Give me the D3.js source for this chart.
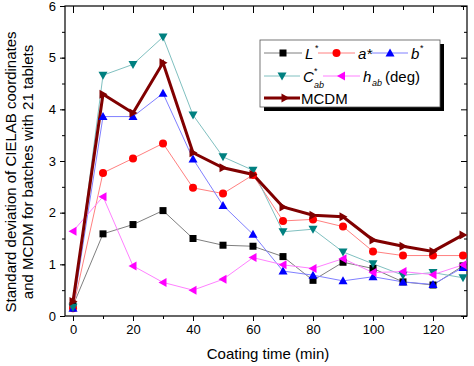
<!DOCTYPE html>
<html><head><meta charset="utf-8">
<script src="https://cdn.jsdelivr.net/npm/d3@7/dist/d3.min.js"></script>
<style>body{margin:0;background:#fff}svg{display:block;font-family:"Liberation Sans",Arial,sans-serif}</style>
</head><body><svg id="c" width="474" height="366"></svg>
<script>
const times = [0,10,20,30,40,50,60,70,80,90,100,110,120,130];
const Lstar = [0.20,1.59,1.77,2.04,1.50,1.37,1.35,1.15,0.69,1.04,0.92,0.66,0.60,0.97];
const astar = [0.15,2.77,3.05,3.34,2.48,2.37,2.73,1.84,1.87,1.73,1.25,1.17,1.17,1.17];
const bstar = [0.15,3.86,3.86,4.31,3.04,2.14,1.58,0.87,0.79,0.68,0.76,0.66,0.61,0.94];
const Cab = [0.17,4.66,4.87,5.40,3.89,3.08,2.82,1.63,1.68,1.24,1.01,0.79,0.84,0.74];
const hab = [1.64,2.31,0.97,0.65,0.50,0.71,1.13,0.99,0.92,1.11,0.84,0.86,0.80,0.99];
const MCDM = [0.28,4.29,3.93,4.90,3.16,2.87,2.74,2.11,1.95,1.92,1.47,1.35,1.25,1.57];
const xTicks = [0,20,40,60,80,100,120];
const yTicks = [0,1,2,3,4,5,6];

const series = [
  {name:"L", vals:Lstar, line:"#7f7f7f", mark:"#000000", shape:"square", w:1},
  {name:"a", vals:astar, line:"#ff8080", mark:"#ff0000", shape:"circle", w:1},
  {name:"b", vals:bstar, line:"#8080ff", mark:"#0000ff", shape:"up", w:1},
  {name:"C", vals:Cab, line:"#80c0c0", mark:"#008080", shape:"down", w:1},
  {name:"h", vals:hab, line:"#ff80ff", mark:"#ff00ff", shape:"left", w:1},
  {name:"M", vals:MCDM, line:"#800000", mark:"#800000", shape:"right", w:3}
];

const svg = d3.select("#c");
const L = 65, R = 467, T = 6, B = 316;
const x = d3.scaleLinear().domain([-2.67, 131.33]).range([L, R]);
const y = d3.scaleLinear().domain([0, 6]).range([B, T]);

function sym(g, shape, cx, cy, color) {
  const s = 4;
  let p;
  if (shape === "square") { g.append("rect").attr("x", cx-3.5).attr("y", cy-3.5).attr("width",7).attr("height",7).attr("fill",color); return; }
  if (shape === "circle") { g.append("circle").attr("cx",cx).attr("cy",cy).attr("r",4).attr("fill",color); return; }
  if (shape === "up") p = [[cx,cy-s-0.5],[cx+s+0.5,cy+s-0.5],[cx-s-0.5,cy+s-0.5]];
  if (shape === "down") p = [[cx,cy+s+0.5],[cx+s+0.5,cy-s+0.5],[cx-s-0.5,cy-s+0.5]];
  if (shape === "left") p = [[cx-s-0.5,cy],[cx+s-0.5,cy-s-0.5],[cx+s-0.5,cy+s+0.5]];
  if (shape === "right") p = [[cx+s+0.5,cy],[cx-s+0.5,cy-s-0.5],[cx-s+0.5,cy+s+0.5]];
  g.append("polygon").attr("points", p.map(d=>d.join(",")).join(" ")).attr("fill", color);
}

// axes
const minorX = d3.range(0, 131, 10);
const minorY = d3.range(0, 6.01, 0.5);
const axB = svg.append("g").attr("transform",`translate(0,${B})`)
  .call(d3.axisBottom(x).tickValues(minorX).tickSize(3).tickFormat(""));
axB.select(".domain").remove();
const axB2 = svg.append("g").attr("transform",`translate(0,${B})`)
  .call(d3.axisBottom(x).tickValues(xTicks).tickSize(5).tickPadding(4).tickFormat(d3.format("d")));
axB2.select(".domain").remove();
axB2.selectAll("text").attr("font-size",13).attr("fill","#000");
const axT = svg.append("g").attr("transform",`translate(0,${T})`)
  .call(d3.axisBottom(x).tickValues(minorX).tickSize(4).tickFormat(""));
axT.select(".domain").remove();
axT.selectAll("line").filter(d=>d%20===0).attr("y2",7);
const axL = svg.append("g").attr("transform",`translate(${L},0)`)
  .call(d3.axisLeft(y).tickValues(minorY).tickSize(3).tickFormat(""));
axL.select(".domain").remove();
const axL2 = svg.append("g").attr("transform",`translate(${L},0)`)
  .call(d3.axisLeft(y).tickValues(yTicks).tickSize(5).tickPadding(4).tickFormat(d3.format("d")));
axL2.select(".domain").remove();
axL2.selectAll("text").attr("font-size",13).attr("fill","#000");
const axR = svg.append("g").attr("transform",`translate(${R},0)`)
  .call(d3.axisLeft(y).tickValues(minorY).tickSize(3).tickFormat(""));
axR.select(".domain").remove();
axR.selectAll("line").filter(d=>Number.isInteger(d)).attr("x2",-6);
svg.selectAll(".tick line").attr("stroke","#000");
svg.append("rect").attr("x",L).attr("y",T).attr("width",R-L).attr("height",B-T)
  .attr("fill","none").attr("stroke","#000").attr("stroke-width",1.2);

// series
const line = d3.line().x((d,i)=>x(times[i])).y(d=>y(d));
series.forEach(s => {
  svg.append("path").attr("d", line(s.vals)).attr("fill","none").attr("stroke", s.line).attr("stroke-width", s.w);
});
series.forEach(s => {
  const g = svg.append("g");
  s.vals.forEach((v,i) => sym(g, s.shape, x(times[i]), y(v), s.mark));
});

// legend
const lg = svg.append("g");
lg.append("rect").attr("x",264).attr("y",44).attr("width",180).attr("height",67).attr("fill","#000");
lg.append("rect").attr("x",260).attr("y",40).attr("width",180).attr("height",67).attr("fill","#fff").attr("stroke","#555").attr("stroke-width",0.8);
function item(s, x1, x2, yy) {
  lg.append("line").attr("x1",x1).attr("x2",x2).attr("y1",yy).attr("y2",yy).attr("stroke",s.line).attr("stroke-width",s.w);
  sym(lg, s.shape, (x1+x2)/2 + (s.name==="M"?3:0), yy, s.mark);
}
const tx = (str, xx, yy, fs, it) => lg.append("text").attr("x",xx).attr("y",yy).attr("font-size",fs||15)
  .attr("font-style", it ? "italic" : "normal").attr("fill","#000").text(str);
item(series[0], 264, 302, 53);
tx("L",305,59,15,true); tx("*",315,51,9);
item(series[1], 318, 355, 53);
tx("a*",358,59,15,true);
item(series[2], 372, 408, 53);
tx("b",411,59,15,true); tx("*",420,51,9);
item(series[3], 264, 300, 76);
tx("C",303,82,15,true); tx("*",314,74,9); tx("ab",314,88,9,true);
item(series[4], 323, 360, 76);
tx("h",363,82,15,true); tx("ab",372,86,9,true); tx("(deg)",385,82,15);
item(series[5], 264, 300, 98);
tx("MCDM",301,104,15);

// axis titles
svg.append("text").attr("x",268).attr("y",359).attr("text-anchor","middle").attr("font-size",15).attr("fill","#000").text("Coating time (min)");
const yl = svg.append("text").attr("transform","translate(0,172) rotate(-90)").attr("text-anchor","middle").attr("font-size",15).attr("fill","#000");
yl.append("tspan").attr("x",0).attr("y",16).text("Standard deviation of CIELAB coordinates");
yl.append("tspan").attr("x",0).attr("y",33).text("and MCDM for batches with 21 tablets");
</script></body></html>
